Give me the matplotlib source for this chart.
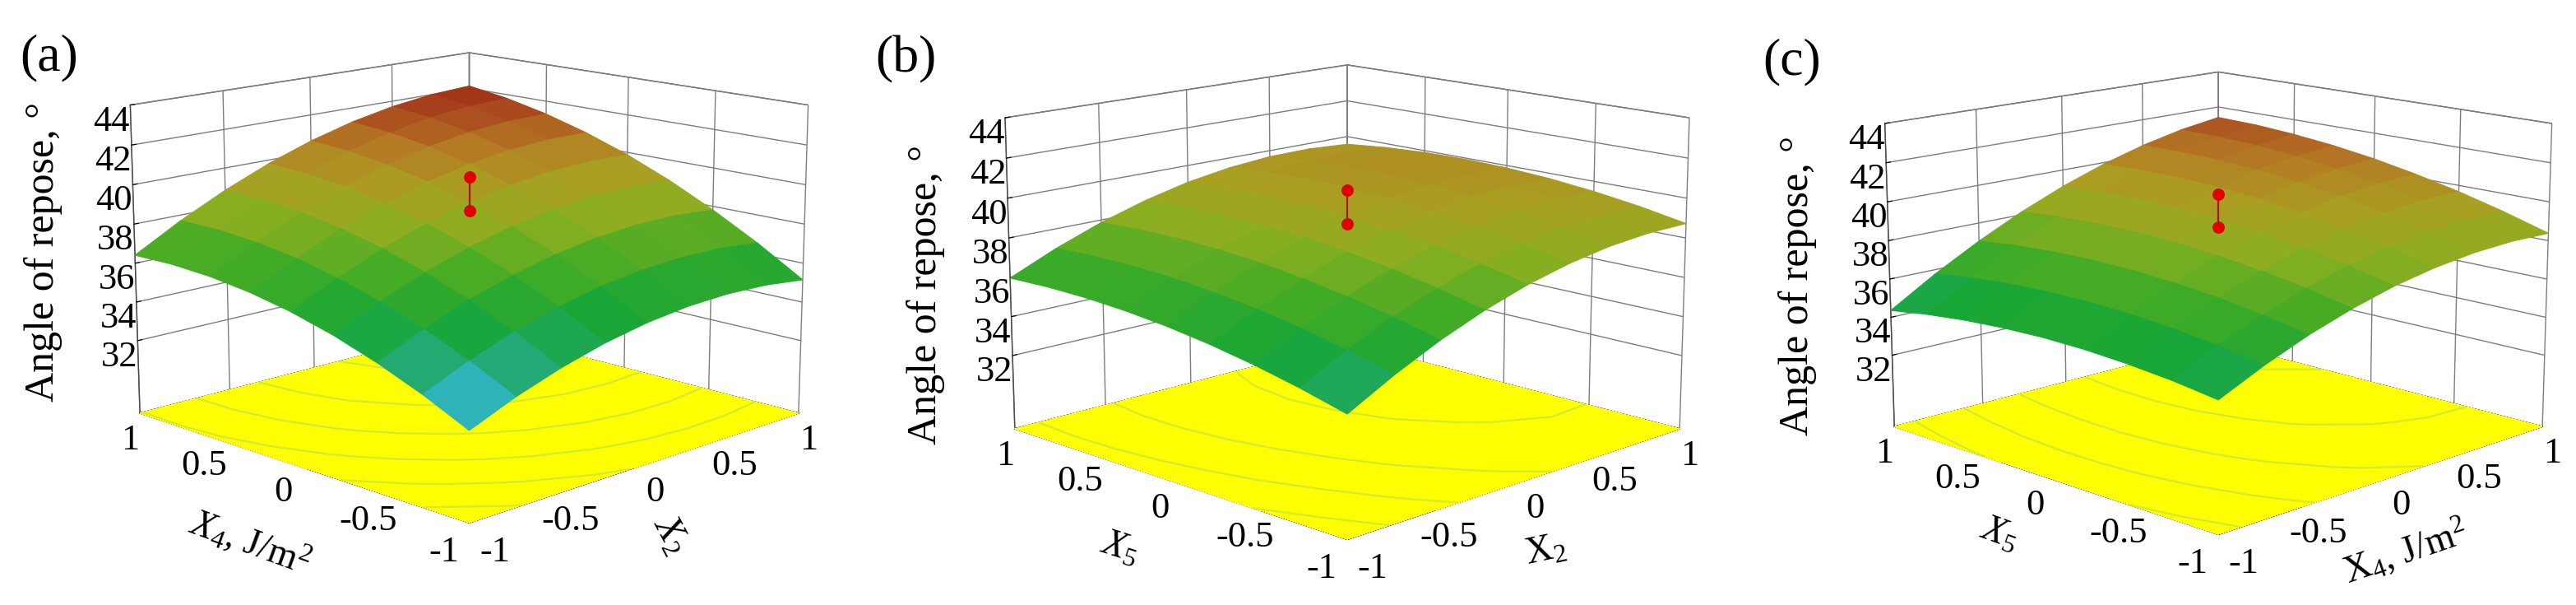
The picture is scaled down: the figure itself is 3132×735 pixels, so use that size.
import numpy as np
import matplotlib
matplotlib.use('Agg')
import matplotlib.pyplot as plt
from matplotlib.colors import LinearSegmentedColormap, Normalize
from mpl_toolkits.mplot3d import proj3d

plt.rcParams['font.family'] = ['Liberation Serif', 'DejaVu Serif']
plt.rcParams['mathtext.fontset'] = 'custom'
plt.rcParams['mathtext.rm'] = 'Liberation Serif'
plt.rcParams['mathtext.it'] = 'Liberation Serif:italic'
try:
    plt.rcParams['axes3d.automargin'] = False
except KeyError:
    pass

# ------------------------------------------------------------------ data
coded_levels = [-1.0, -0.75, -0.5, -0.25, 0.0, 0.25, 0.5, 0.75, 1.0]
coded_ticks = [-1.0, -0.5, 0.0, 0.5, 1.0]
coded_tick_labels = ['-1', '-0.5', '0', '0.5', '1']
z_ticks = [32, 34, 36, 38, 40, 42, 44]
z_tick_labels = ['32', '34', '36', '38', '40', '42', '44']
z_range = [28.2, 44.0]

# rows: factor on the left floor axis (-1 .. 1); columns: factor on the right floor axis (-1 .. 1)
angle_a = [  # rows X4, columns X2
    [32.47, 33.39, 34.14, 34.73, 35.15, 35.40, 35.48, 35.40, 35.15],
    [33.50, 34.46, 35.26, 35.90, 36.36, 36.66, 36.79, 36.76, 36.56],
    [34.37, 35.39, 36.24, 36.92, 37.43, 37.78, 37.96, 37.97, 37.81],
    [35.10, 36.16, 37.05, 37.78, 38.34, 38.74, 38.96, 39.02, 38.92],
    [35.67, 36.77, 37.72, 38.49, 39.10, 39.54, 39.82, 39.92, 39.87],
    [36.08, 37.24, 38.23, 39.05, 39.71, 40.20, 40.52, 40.67, 40.66],
    [36.34, 37.55, 38.59, 39.46, 40.16, 40.70, 41.07, 41.27, 41.30],
    [36.45, 37.70, 38.79, 39.71, 40.46, 41.04, 41.46, 41.71, 41.79],
    [36.41, 37.71, 38.84, 39.81, 40.61, 41.24, 41.70, 42.00, 42.13],
]
angle_b = [  # rows X5, columns X2
    [33.93, 35.11, 36.13, 36.98, 37.67, 38.18, 38.53, 38.71, 38.73],
    [34.50, 35.66, 36.66, 37.49, 38.16, 38.66, 38.99, 39.15, 39.15],
    [34.98, 36.12, 37.10, 37.92, 38.56, 39.04, 39.35, 39.50, 39.48],
    [35.37, 36.49, 37.45, 38.25, 38.88, 39.34, 39.63, 39.76, 39.72],
    [35.67, 36.77, 37.72, 38.49, 39.10, 39.54, 39.82, 39.92, 39.87],
    [35.88, 36.97, 37.89, 38.65, 39.24, 39.66, 39.91, 40.00, 39.93],
    [36.00, 37.07, 37.97, 38.71, 39.28, 39.69, 39.92, 39.99, 39.90],
    [36.03, 37.08, 37.97, 38.69, 39.24, 39.62, 39.84, 39.89, 39.78],
    [35.97, 37.00, 37.87, 38.57, 39.11, 39.47, 39.67, 39.70, 39.57],
]
angle_c = [  # rows X5, columns X4
    [34.50, 35.52, 36.39, 37.10, 37.67, 38.07, 38.33, 38.43, 38.38],
    [34.80, 35.87, 36.78, 37.55, 38.16, 38.62, 38.92, 39.07, 39.07],
    [35.00, 36.12, 37.09, 37.90, 38.56, 39.07, 39.42, 39.62, 39.67],
    [35.12, 36.29, 37.30, 38.17, 38.88, 39.43, 39.84, 40.09, 40.18],
    [35.15, 36.36, 37.43, 38.34, 39.10, 39.71, 40.16, 40.46, 40.61],
    [35.08, 36.35, 37.47, 38.43, 39.24, 39.89, 40.39, 40.74, 40.94],
    [34.93, 36.25, 37.41, 38.42, 39.28, 39.99, 40.54, 40.94, 41.18],
    [34.69, 36.06, 37.27, 38.33, 39.24, 39.99, 40.59, 41.04, 41.34],
    [34.36, 35.78, 37.04, 38.15, 39.11, 39.91, 40.56, 41.06, 41.40],
]
center_x = [0.0, 0.0]
center_y = [0.0, 0.0]
center_runs = [40.4, 38.7]

panel_tags = ['(a)', '(b)', '(c)']
left_axis_titles = [r'$X_4$, J/m$^2$', r'$X_5$', r'$X_5$']
right_axis_titles = [r'$X_2$', r'$\mathrm{X}_2$', r'$\mathrm{X}_4$, J/m$^2$']
z_title = 'Angle of repose, \u00b0'

# ------------------------------------------------------------------ style / layout
W, H = 3132, 735
cmap_nodes = [32.0, 33.3, 34.5, 35.5, 37.0, 38.3, 39.5, 40.6, 41.5, 42.2]
cmap_cols = ['#38b0ec', '#30b6c2', '#22a86a', '#18a636', '#48ac24', '#8cae20',
             '#aa9e22', '#b47c24', '#aa4a1e', '#9e2816']
pos = [(n - cmap_nodes[0]) / (cmap_nodes[-1] - cmap_nodes[0]) for n in cmap_nodes]
cmap = LinearSegmentedColormap.from_list('de', list(zip(pos, cmap_cols)))
norm = Normalize(cmap_nodes[0], cmap_nodes[-1])
floor_color = '#ffff00'
floor_line_color = '#d2ea30'
floor_levels = [33.5, 35.0, 36.5, 38.0, 39.5, 41.0]

# target pixel positions (x, y from top) of box corners per panel
box_pts = [(-1, 1, 44.0), (1, -1, 44.0), (1, 1, 44.0),
           (-1, -1, 28.2), (-1, 1, 28.2), (1, -1, 28.2)]
box_targets = [
    [(151, 129), (991, 130), (570, 65), (570, 630), (175, 502), (966, 502)],
    [(1211, 143), (2058, 145), (1640, 80), (1640, 652), (1241, 521), (2038, 521)],
    [(2296, 150), (3104, 150), (2695, 84), (2695, 650), (2303, 521), (3090, 518)],
]
tag_pos = [(24, 70), (1064, 72), (2143, 75)]
zlab_pos = [(53, 306), (1126, 358), (2186, 347)]
left_lab = [(303, 660, -20), (1361, 667, -18), (2430, 650, -20)]
right_lab = [(814, 650, -62), (1879, 670, 12), (2925, 671, 19)]

fig = plt.figure(figsize=(W / 100, H / 100), dpi=100)
fig.patch.set_facecolor('white')

axes = []
for i in range(3):
    ax = fig.add_axes([i / 3, 0, 1 / 3, 1], projection='3d', computed_zorder=False)
    ax.set_xlim(-1, 1)
    ax.set_ylim(-1, 1)
    ax.set_zlim(*z_range)
    ax.set_facecolor((1, 1, 1, 0))
    axes.append(ax)

fig.canvas.draw()


def proj_frac(ax, pts):
    xs = np.array([p[0] for p in pts], float)
    ys = np.array([p[1] for p in pts], float)
    zs = np.array([p[2] for p in pts], float)
    x2, y2, _ = proj3d.proj_transform(xs, ys, zs, ax.get_proj())
    return ax.transLimits.transform(np.column_stack([x2, y2]))


def fit_lin(uv, targets):
    n = len(targets)
    A = np.zeros((2 * n, 3))
    A[:n, 0] = uv[:, 0]
    A[:n, 1] = 1
    A[n:, 0] = -uv[:, 1]
    A[n:, 2] = 1
    b = np.array([t[0] for t in targets] + [t[1] for t in targets], float)
    sol = np.linalg.lstsq(A, b, rcond=None)[0]
    return sol, float(np.sum((A @ sol - b) ** 2))


def set_view(ax, elev, za, f):
    ax.view_init(elev=elev, azim=-135)
    ax.set_box_aspect((1, 1, za))
    if np.isinf(f):
        ax.set_proj_type('ortho')
    else:
        ax.set_proj_type('persp', focal_length=f)


best = None
ax0 = axes[0]
for f in [0.3, 0.45, 0.6, 0.8, 1.0, 1.3, 1.7, 2.3, 3.2, np.inf]:
    for elev in np.arange(8, 30.1, 1.0):
        for za in np.arange(0.4, 1.11, 0.03):
            set_view(ax0, elev, za, f)
            uv = proj_frac(ax0, box_pts)
            err = sum(fit_lin(uv, t)[1] for t in box_targets)
            if best is None or err < best[0]:
                best = (err, f, elev, za)
_, bf, be, bz = best
best2 = best
for f in ([bf] if np.isinf(bf) else np.linspace(bf * 0.8, bf * 1.25, 7)):
    for elev in np.arange(be - 1.0, be + 1.01, 0.25):
        for za in np.arange(bz - 0.03, bz + 0.031, 0.0075):
            set_view(ax0, elev, za, f)
            uv = proj_frac(ax0, box_pts)
            err = sum(fit_lin(uv, t)[1] for t in box_targets)
            if err < best2[0]:
                best2 = (err, f, elev, za)
_, bf, be, bz = best2

X, Y = np.meshgrid(coded_levels, coded_levels)
data = [angle_a, angle_b, angle_c]

for i, ax in enumerate(axes):
    set_view(ax, be, bz, bf)
    uv = proj_frac(ax, box_pts)
    (s, x0, c), _ = fit_lin(uv, box_targets[i])
    ax.set_position([x0 / W, (H - c) / H, s / W, s / H])

    Z = np.array(data[i])
    ax.contourf(X, Y, Z, levels=[0, 100], colors=[floor_color], zdir='z',
                offset=z_range[0], zorder=1)
    ax.contour(X, Y, Z, levels=floor_levels, colors=floor_line_color,
               linewidths=1.6, zdir='z', offset=z_range[0], zorder=2)
    surf = ax.plot_surface(X, Y, Z, cmap=cmap, norm=norm, rstride=1, cstride=1,
                           linewidth=0.8, antialiased=True, shade=False, zorder=3)
    surf.set_edgecolor(cmap(norm(surf.get_array())))
    ax.plot(center_x, center_y, center_runs, color='#b01212', lw=1.6, zorder=4)
    ax.scatter(center_x, center_y, center_runs, s=115, c='#e00000',
               depthshade=False, zorder=5, linewidths=0)

    ax.set_xlim(-1, 1)
    ax.set_ylim(-1, 1)
    ax.set_zlim(*z_range)
    ax.set_xticks(coded_ticks)
    ax.set_xticklabels(coded_tick_labels)
    ax.set_yticks(coded_ticks)
    ax.set_yticklabels(coded_tick_labels)
    ax.set_zticks(z_ticks)
    ax.set_zticklabels(z_tick_labels)
    ax.tick_params(axis='x', labelsize=32, pad=1)
    ax.tick_params(axis='y', labelsize=32, pad=1)
    ax.tick_params(axis='z', labelsize=32, pad=1)
    # keep the two "-1" labels at the front corner apart
    ax.get_yticklabels()[0].set_horizontalalignment('right')
    ax.get_xticklabels()[0].set_horizontalalignment('left')
    for axis in (ax.xaxis, ax.yaxis, ax.zaxis):
        axis.set_pane_color((1, 1, 1, 1))
        axis.pane.set_edgecolor('#6f6f6f')
        axis.pane.set_linewidth(1.0)
        axis.line.set_color('#4a4a4a')
        axis.line.set_linewidth(1.0)
        axis._axinfo['grid']['color'] = '#7c7c7c'
        axis._axinfo['grid']['linewidth'] = 1.0
        axis._axinfo['tick']['inward_factor'] = 0.0
        axis._axinfo['tick']['outward_factor'] = 0.15
    ax.grid(True)

    tx, ty = tag_pos[i]
    fig.text(tx / W, 1 - ty / H, panel_tags[i], fontsize=46, ha='left', va='center')
    zx, zy = zlab_pos[i]
    fig.text(zx / W, 1 - zy / H, z_title, fontsize=36, rotation=90,
             ha='center', va='center')
    lx, ly, lr = left_lab[i]
    fig.text(lx / W, 1 - ly / H, left_axis_titles[i], fontsize=33, rotation=lr,
             ha='center', va='center', rotation_mode='anchor')
    rx, ry, rr = right_lab[i]
    fig.text(rx / W, 1 - ry / H, right_axis_titles[i], fontsize=33, rotation=rr,
             ha='center', va='center', rotation_mode='anchor')

fig.savefig('out.png', dpi=100, facecolor='white')
